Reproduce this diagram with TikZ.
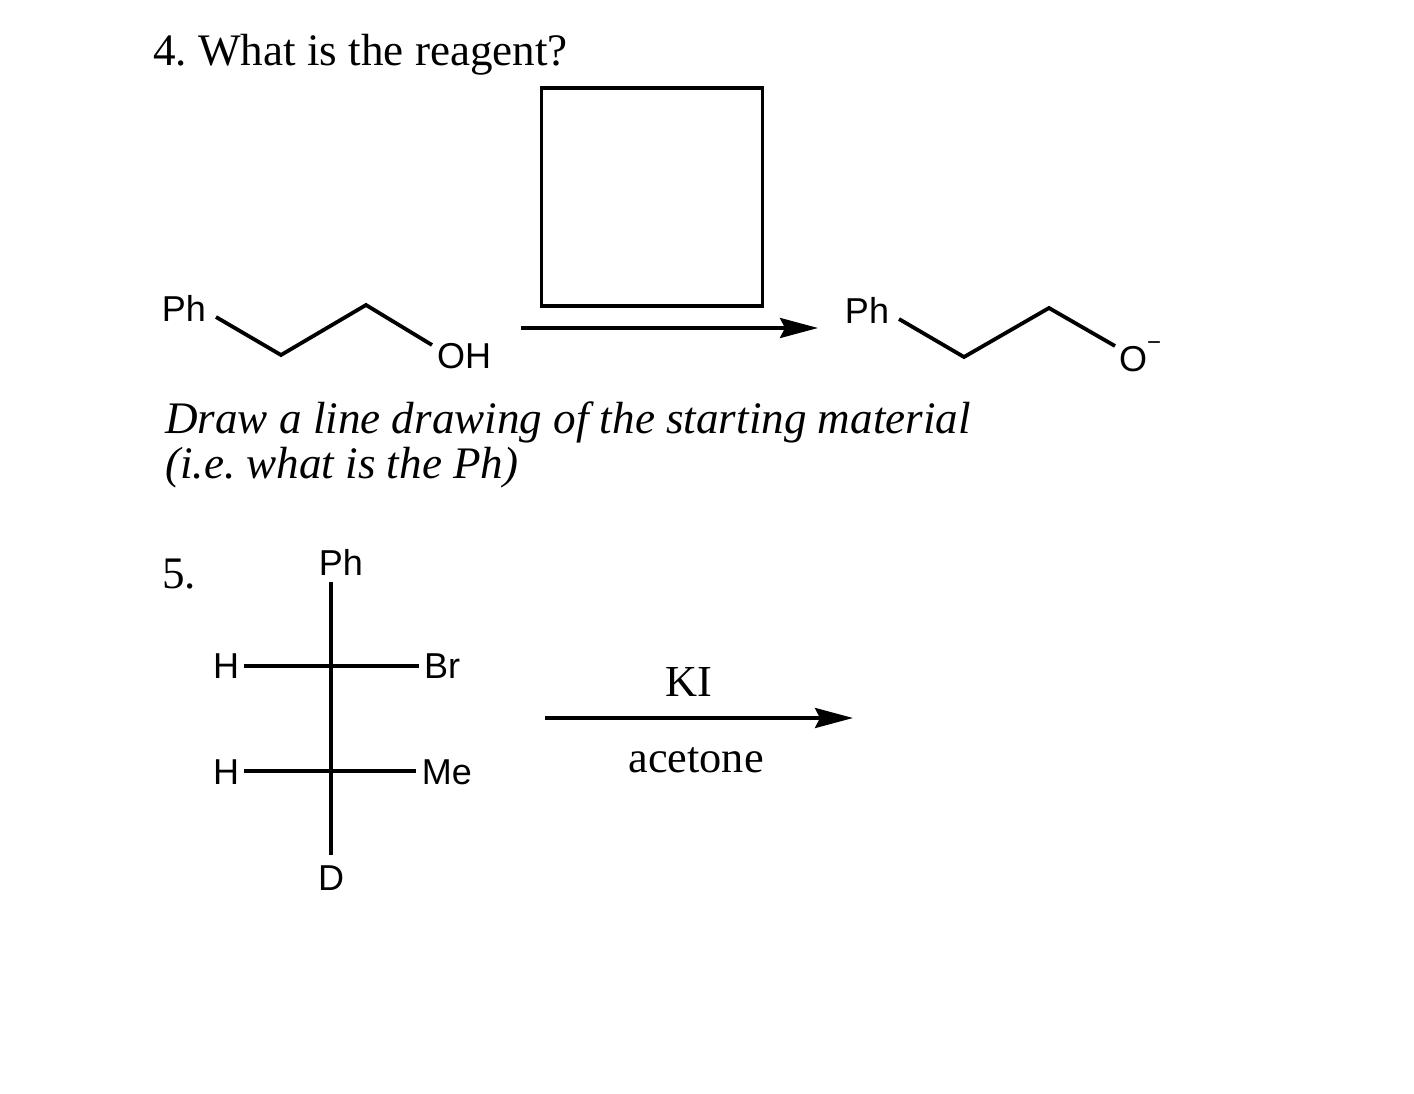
\documentclass[tikz,border=0pt]{standalone}
\usepackage{fontspec}
\setmainfont{Liberation Serif}
\newfontfamily\hel{Liberation Sans}
\usetikzlibrary{arrows.meta}
\frenchspacing
\tikzset{
 px/.style={x=1pt,y=-1pt},
 bond/.style={line width=3.8pt,line cap=butt,line join=miter},
 rxn/.style={line width=3.6pt,-{Stealth[length=38pt,width=20pt,inset=5pt]}},
 atom/.style={font=\hel\fontsize{36}{36}\selectfont,inner sep=0pt,text=black},
 txt/.style={font=\fontsize{45.1}{45.1}\selectfont,inner sep=0pt,anchor=base west},
 itxt/.style={font=\itshape\fontsize{45.1}{45.1}\selectfont,inner sep=0pt,anchor=base west},
 ctxt/.style={font=\fontsize{44.3}{44.3}\selectfont,inner sep=0pt,anchor=base},
}
\begin{document}
\begin{tikzpicture}[px]
\useasboundingbox (0,0) rectangle (1414,1094);
\fill[white] (0,0) rectangle (1414,1094);
\node[txt] (q4) at (153,66) {4. What is the reagent?};
\node[draw,line width=3.6pt,minimum width=221pt,minimum height=218pt,inner sep=0pt] (box) at (652,197) {};
% left
\node[atom] (ph1) at (184,308) {Ph};
\node[atom] (oh) at (464,356) {OH};
\coordinate (a0) at (216,317);
\coordinate (a1) at (281,355);
\coordinate (a2) at (366,305);
\coordinate (a3) at (432,345);
\draw[bond] (a0) -- (a1) -- (a2) -- (a3);
\coordinate (ar1s) at (521,328);
\coordinate (ar1e) at (818,328);
\draw[rxn] (ar1s) -- (ar1e);
% right
\node[atom] (ph2) at (867,310) {Ph};
\node[atom] (om) at (1133,359) {O};
\node[atom,font=\hel\fontsize{24}{24}\selectfont] (minus) at (1154,346) {\textminus};
\coordinate (b0) at (899,319);
\coordinate (b1) at (964,357);
\coordinate (b2) at (1049,308);
\coordinate (b3) at (1115,346);
\draw[bond] (b0) -- (b1) -- (b2) -- (b3);
\node[itxt] (d1) at (165,433) {Draw a line drawing of the starting material};
\node[itxt] (d2) at (165,478) {(i.e. what is the Ph)};
\node[txt] (q5) at (162,588) {5.};
% fischer
\node[atom] (fph) at (341,562) {Ph};
\node[atom] (fd) at (331,878) {D};
\node[atom] (h1) at (226,666) {H};
\node[atom] (h2) at (226,772) {H};
\node[atom] (br) at (442,666) {Br};
\node[atom] (me) at (447,772) {Me};
\coordinate (vt) at (331,582);
\coordinate (vb) at (331,855);
\coordinate (h1l) at (244,666);
\coordinate (h1r) at (419,666);
\coordinate (h2l) at (244,771);
\coordinate (h2r) at (416,771);
\draw[bond] (vt) -- (vb);
\draw[bond] (h1l) -- (h1r);
\draw[bond] (h2l) -- (h2r);
\coordinate (ar2s) at (545,718);
\coordinate (ar2e) at (853,718);
\draw[rxn] (ar2s) -- (ar2e);
\node[ctxt] (ki) at (689,696) {KI};
\node[ctxt] (ac) at (696,772) {acetone};
\end{tikzpicture}
\end{document}
